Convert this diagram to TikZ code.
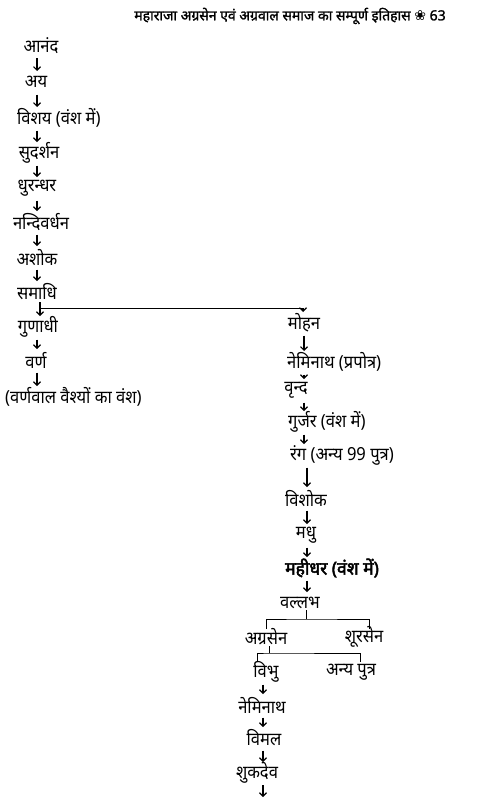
\documentclass[tikz,border=0pt]{standalone}
\usepackage{fontspec}
\usetikzlibrary{arrows.meta,calc}
\newfontfamily\dev[Script=Devanagari,FakeStretch=0.92]{Noto Sans}
\newfontfamily\devb[Script=Devanagari,FakeBold=2.5,FakeStretch=0.97]{Noto Sans}
\newfontfamily\devh[Script=Devanagari,FakeBold=1.5]{Noto Sans}
\newfontfamily\djv{DejaVu Sans}
\tikzset{
  t/.style={font=\dev\fontsize{18}{21}\selectfont, inner sep=0pt, anchor=center},
  tw/.style={t, anchor=west},
  tb/.style={tw, font=\devb\fontsize{18}{21}\selectfont},
  hd/.style={font=\devh\fontsize{14}{16}\selectfont, inner sep=0pt},
  arr/.style={line width=1.1pt, -{Straight Barb[length=3.5pt,width=7pt]}},
  ln/.style={line width=1pt}
}
\newcommand{\darr}[3]{\draw[arr] ($(#1.center -| #3)+(0,12.5)$) -- ($(#2.center -| #3)+(0,-11)$);}
\begin{document}
\begin{tikzpicture}[x=1pt,y=-1pt]
\useasboundingbox (0,0) rectangle (477,800);
\node[hd] (head) at (290,16) {महाराजा अग्रसेन एवं अग्रवाल समाज का सम्पूर्ण इतिहास {\djv ❀} 63};
% columns
\coordinate (cL) at (37,0);
\coordinate (cR) at (304,0);
\coordinate (cR2) at (307,0);
\coordinate (cB) at (263,0);
% left column
\node[t] (anand) at (41,46) {आनंद};
\node[t] (aya) at (36,82) {अय};
\node[tw] (vishay) at (17,118) {विशय (वंश में)};
\node[t] (sudarshan) at (39,153) {सुदर्शन};
\node[t] (dhur) at (37,188) {धुरन्धर};
\node[t] (nandi) at (41,222) {नन्दिवर्धन};
\node[t] (ashok) at (37,257) {अशोक};
\node[t] (samadhi) at (37,292) {समाधि};
\node[t] (gunadhi) at (38,327) {गुणाधी};
\node[t] (varn) at (36,360) {वर्ण};
\node[tw] (varnwal) at (5,397) {(वर्णवाल वैश्यों का वंश)};
\darr{anand}{aya}{cL}
\darr{aya}{vishay}{cL}
\darr{vishay}{sudarshan}{cL}
\darr{sudarshan}{dhur}{cL}
\darr{dhur}{nandi}{cL}
\darr{nandi}{ashok}{cL}
\darr{ashok}{samadhi}{cL}
\coordinate (brL) at (40,308);
\coordinate (brR) at (303,308);
\draw[arr] ($(samadhi.center -| brL)+(0,10)$) -- ($(gunadhi.center -| brL)+(0,-11)$);
\draw[ln] (brL) -- (brR);
\darr{gunadhi}{varn}{cL}
\darr{varn}{varnwal}{cL}
% right column
\node[t] (mohan) at (304,323) {मोहन};
\draw[arr] (brR) -- ($(mohan.center -| brR)+(0,-11)$);
\node[tw] (nemi) at (287,362) {नेमिनाथ (प्रपोत्र)};
\node[t] (vrind) at (296,390) {वृन्द};
\node[tw] (gurjar) at (288,422) {गुर्जर (वंश में)};
\node[tw] (rang) at (290,455) {रंग (अन्य 99 पुत्र)};
\node[t] (vishok) at (306,498) {विशोक};
\node[t] (madhu) at (306,535) {मधु};
\node[tb] (mahidhar) at (285,568) {महीधर (वंश में)};
\node[t] (vallabh) at (300,603) {वल्लभ};
\darr{mohan}{nemi}{cR}
\darr{nemi}{vrind}{cR}
\darr{vrind}{gurjar}{cR}
\darr{gurjar}{rang}{cR}
\darr{rang}{vishok}{cR2}
\darr{vishok}{madhu}{cR2}
\darr{madhu}{mahidhar}{cR2}
\darr{mahidhar}{vallabh}{cR2}
% vallabh tree
\node[t] (agrasen) at (266,637) {अग्रसेन};
\node[t] (shursen) at (364,637) {शूरसेन};
\coordinate (v1) at (306,619);
\draw[ln] ($(vallabh.center -| v1)+(0,7)$) -- (v1);
\draw[ln] ($(agrasen.center)+(0,-8)$) |- (v1) -| ($(shursen.center)+(5,-8)$);
% agrasen tree
\node[t] (vibhu) at (266,672) {विभु};
\node[t] (anya) at (351,672) {अन्य पुत्र};
\coordinate (a1) at (269,653);
\draw[ln] ($(agrasen.center -| a1)+(0,9)$) -- (a1);
\draw[ln] ($(vibhu.center)+(-9,-10)$) |- (a1) -| ($(anya.center)+(9,-10)$);
% bottom column
\node[t] (nemi2) at (262,705) {नेमिनाथ};
\node[t] (vimal) at (264,738) {विमल};
\node[t] (shuk) at (257,773) {शुकदेव};
\coordinate (endc) at (263,797);
\darr{vibhu}{nemi2}{cB}
\darr{nemi2}{vimal}{cB}
\darr{vimal}{shuk}{cB}
\draw[arr] ($(shuk.center -| endc)+(0,12)$) -- (endc);
\end{tikzpicture}
\end{document}
